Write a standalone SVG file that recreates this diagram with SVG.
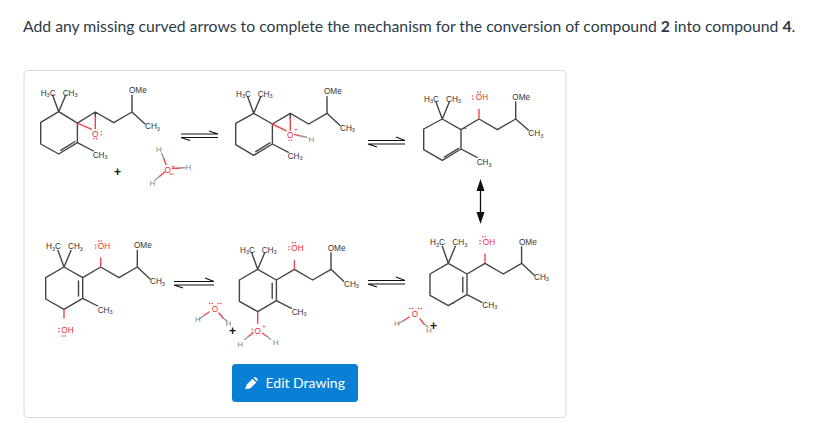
<svg xmlns="http://www.w3.org/2000/svg" width="831" height="432" viewBox="0 0 831 432">
<style>
.b{fill:none;stroke:#444;stroke-width:1.4;stroke-linecap:round;stroke-linejoin:round}
.r{fill:none;stroke:#f0444c;stroke-width:1.4;stroke-linecap:round}
.g{fill:none;stroke:#999;stroke-width:1.4;stroke-linecap:round}
.t{font:8.2px "Liberation Sans",Arial,sans-serif;fill:#333}
.s{font-size:5.500px}
.o{font:8.2px "Liberation Sans",Arial,sans-serif;fill:#ee2b35;text-anchor:middle}
.h{font:8px "Liberation Sans",Arial,sans-serif;fill:#888;text-anchor:middle}
.p{font:bold 12px "Liberation Sans",Arial,sans-serif;fill:#111;text-anchor:middle}
.q{font:6px "Liberation Sans",Arial,sans-serif;fill:#ee2b35}
.d{fill:#ee2b35}
.a{fill:none;stroke:#111;stroke-width:1.2}
</style>
<defs>
<g id="dots"><circle cx="-1.300" r=".7" class="d"/><circle cx="1.300" r=".7" class="d"/></g>
<g id="vdots"><circle cy="-1.500" r=".7" class="d"/><circle cy="1.500" r=".7" class="d"/></g>
</defs>
<rect width="831" height="432" fill="#fff"/>
<text x="23" y="32" font-family="Lato,sans-serif" font-size="15.750" fill="#2d3b45">Add any missing curved arrows to complete the mechanism for the conversion of compound <tspan font-weight="700">2</tspan> into compound <tspan font-weight="700">4</tspan>.</text>
<rect id="card" x="24" y="70.500" width="542" height="347" rx="4" fill="#fff" stroke="#d9d9d9"/>

<g id="compound-1" transform="translate(58.700 111.700)">
<path class="b" d="M0 0L18.700 11.500V31L0 42.300L-18 32.300V10.600ZM0 0L-6 -16.500M0 0L7 -16.500M18.700 11.500L36.600 .3L55 11L73.300 .3V-16.500M73.300 .3L86.300 12.300M18.700 31L34.700 39.300M2 38.600L16.300 29.800M36.600 .3V5"/>
<path class="r" d="M18.700 11.500L32.500 17.500M36.600 5V17"/>
<text class="t" x="-18" y="-16">H<tspan class="s" dy="1.500">3</tspan><tspan dy="-1.500">C</tspan></text><text class="t" x="4" y="-16">CH<tspan class="s" dy="1.500">3</tspan></text>
<text class="t" x="70.300" y="-18.400">OMe</text><text class="t" x="86.300" y="17.600">CH<tspan class="s" dy="1.500">3</tspan></text><text class="t" x="34" y="46">CH<tspan class="s" dy="1.500">3</tspan></text>
<text class="o" x="36.600" y="25">O</text><use href="#dots" x="36.600" y="27"/><use href="#vdots" x="42.500" y="21.500"/>
</g>
<g id="plus-1"><text class="p" x="117.500" y="176">+</text></g>
<g id="hydronium-1">
<path class="g" d="M161.700 153.300L164 159M179 168L185 167.700M155 180L160 176"/>
<path class="r" d="M164 159L166 164.500M172.300 168.300H179M160 176L164.500 172"/>
<text class="h" x="159" y="152">H</text><text class="h" x="188.300" y="170">H</text><text class="h" x="152.300" y="185.500">H</text>
<text class="o" x="167.700" y="172.500">O</text><use href="#dots" x="171.500" y="174"/><text class="q" x="171.500" y="167.500">+</text>
</g>

<g id="compound-2" transform="translate(253.700 113.300)">
<path class="b" d="M0 0L18.700 10.700V30.700L0 42L-18 31.400V10ZM0 0L-6 -16.500M0 0L7 -16.500M18.700 10.700L36.600 0L55 10.700L73.300 0V-16.500M73.300 0L86.300 12.300M18.700 30.700L34.700 39M2 38.300L16.300 29.500M36.600 0V5"/>
<path class="r" d="M18.700 10.700L32.500 17.500M36.600 5V17M41 21L46 22.500"/><path class="g" d="M46 22.500L53 24"/>
<text class="t" x="-17.700" y="-16.600">H<tspan class="s" dy="1.500">3</tspan><tspan dy="-1.500">C</tspan></text><text class="t" x="4" y="-16.600">CH<tspan class="s" dy="1.500">3</tspan></text>
<text class="t" x="70.300" y="-19">OMe</text><text class="t" x="86.300" y="17.700">CH<tspan class="s" dy="1.500">3</tspan></text><text class="t" x="34" y="45.700">CH<tspan class="s" dy="1.500">3</tspan></text>
<text class="o" x="36.600" y="24.500">O</text><use href="#dots" x="36.600" y="27"/><text class="q" x="40.500" y="18">+</text>
<text class="h" x="57.600" y="28.400">H</text>
</g>

<g id="compound-3" transform="translate(442.300 119)">
<path class="b" d="M0 0L18.700 10.700V30L0 41.300L-18.600 30.700V10ZM0 0L-6.300 -17M0 0L7 -17M18.700 10.700L36.700 0L55 10.700L73.400 0V-17M73.400 0L86 11M18.700 30L34.700 38.300M2 38L16.300 29.300"/>
<path class="r" d="M36.700 -1V-9.500"/>
<text class="t" x="-18.300" y="-17.300">H<tspan class="s" dy="1.500">3</tspan><tspan dy="-1.500">C</tspan></text><text class="t" x="3.700" y="-17.300">CH<tspan class="s" dy="1.500">3</tspan></text>
<text class="t" x="70" y="-19">OMe</text><text class="t" x="86" y="17">CH<tspan class="s" dy="1.500">3</tspan></text><text class="t" x="34.400" y="46">CH<tspan class="s" dy="1.500">3</tspan></text>
<text class="o" x="39.700" y="-19">OH</text><use href="#dots" x="36.700" y="-26.700"/><use href="#vdots" x="30.400" y="-21.500"/>
<circle cx="23" cy="9.500" r=".7" fill="#444"/>
</g>

<g id="compound-4" transform="translate(64 267)">
<path class="b" d="M0 0L18.700 10.700V31.300L0 42.300L-18.300 32V10.700ZM0 0L-6 -16.500M0 0L7 -16.500M18.700 10.700L36.700 0L55 10.700L73.300 0V-16.500M73.300 0L86 12M18.700 31.300L33.700 39M14.500 14V29"/>
<path class="r" d="M36.700 -1V-9M0 43V51"/>
<text class="t" x="-18" y="-17.700">H<tspan class="s" dy="1.500">3</tspan><tspan dy="-1.500">C</tspan></text><text class="t" x="4" y="-17.700">CH<tspan class="s" dy="1.500">3</tspan></text>
<text class="t" x="70" y="-18.700">OMe</text><text class="t" x="86" y="17.300">CH<tspan class="s" dy="1.500">3</tspan></text><text class="t" x="33.700" y="45.700">CH<tspan class="s" dy="1.500">3</tspan></text>
<text class="o" x="40" y="-18">OH</text><use href="#dots" x="36" y="-26"/><use href="#vdots" x="31.700" y="-20.500"/>
<text class="o" x="3.500" y="66">OH</text><use href="#dots" x="0" y="69"/><use href="#vdots" x="-5" y="63"/>
</g>

<g id="compound-5" transform="translate(257.700 269.300)">
<path class="b" d="M0 0L18.700 10.700V31.300L0 42.300L-18.300 32V10.700ZM0 0L-6 -16.500M0 0L7 -16.500M18.700 10.700L36.700 0L55 10.700L73.300 0V-16.500M73.300 0L86 12M18.700 31.300L33.700 39M14.500 14V29"/>
<path class="r" d="M36.700 -1V-8.600M0 43V54"/>
<text class="t" x="-17.700" y="-16.600">H<tspan class="s" dy="1.500">3</tspan><tspan dy="-1.500">C</tspan></text><text class="t" x="4" y="-16.600">CH<tspan class="s" dy="1.500">3</tspan></text>
<text class="t" x="70" y="-18.600">OMe</text><text class="t" x="86.300" y="17.400">CH<tspan class="s" dy="1.500">3</tspan></text><text class="t" x="34" y="45.700">CH<tspan class="s" dy="1.500">3</tspan></text>
<text class="o" x="39.800" y="-18.600">OH</text><use href="#dots" x="36.300" y="-26.600"/><use href="#vdots" x="31.300" y="-21"/>
<text class="o" x="0" y="65">O</text><text class="q" x="4.500" y="58.500">+</text><use href="#vdots" x="-5.500" y="61.500"/>
<path class="r" d="M-5 64L-9 67M5 64L9 67"/><path class="g" d="M-9 67L-13 70M9 67L13 70"/>
<text class="h" x="-17.500" y="78">H</text><text class="h" x="18" y="76">H</text>
</g>

<g id="compound-6" transform="translate(448.300 263.300)">
<path class="b" d="M0 0L18.700 10.700V31.300L0 42.300L-18.300 32V10.700ZM0 0L-6 -17M0 0L7 -17M18.700 10.700L36.700 0L55 10.700L73.300 0V-16.500M73.300 0L86 12M18.700 31.300L33.700 39M14.500 14V29"/>
<path class="r" d="M36.700 -1V-9"/>
<text class="t" x="-18.300" y="-18.300">H<tspan class="s" dy="1.500">3</tspan><tspan dy="-1.500">C</tspan></text><text class="t" x="4" y="-18.300">CH<tspan class="s" dy="1.500">3</tspan></text>
<text class="t" x="70.700" y="-18.600">OMe</text><text class="t" x="34" y="44.700">CH<tspan class="s" dy="1.500">3</tspan></text><text class="t" x="85.700" y="16.700">CH<tspan class="s" dy="1.500">3</tspan></text>
<text class="o" x="40.700" y="-18.600">OH</text><use href="#dots" x="35.700" y="-26.600"/><use href="#vdots" x="31.700" y="-21"/>
<circle cx="5" cy="40" r=".7" fill="#444"/>
</g>

<g id="water-1">
<path class="r" d="M209 312L204 315.500M219 313L223 318"/><path class="g" d="M204 315.500L199 319M223 318L227 321"/>
<text class="o" x="215" y="312">O</text><use href="#dots" x="211" y="303.500"/><use href="#dots" x="219.500" y="303.500"/>
<text class="h" x="198" y="322">H</text><text class="h" x="228.500" y="326">H</text>
<text class="p" x="232.500" y="335">+</text>
</g>
<g id="water-2">
<path class="r" d="M409 317L403 321M420 319L424 324"/><path class="g" d="M403 321L398 324M424 324L428 327"/>
<text class="o" x="415" y="317">O</text><use href="#dots" x="411" y="308.500"/><use href="#dots" x="420" y="308.500"/>
<text class="h" x="397" y="326">H</text><text class="h" x="429" y="332.500">H</text>
<text class="p" x="433.500" y="330">+</text>
</g>

<g id="connectors">
<path class="a" d="M181 134H218M181 137.500H218M209 131L218 134M181 137.500L190 140.500"/>
<path class="a" d="M368 140.500H405M368 144H405M396 137L405 140.500M368 144L377 147"/>
<path d="M480.500 186V218" stroke="#111" stroke-width="1.300"/><path d="M480.500 179L484.500 191H476.500ZM480.500 224L476.500 212H484.500Z" fill="#111"/>
<path class="a" d="M174 281.500H214M174 285H214M205 278L214 281.500M174 285L183 288"/>
<path class="a" d="M368 280.500H405M368 284H405M396 277L405 280.500M368 284L377 287"/>
</g>

<g id="edit-drawing">
<rect x="232" y="364" width="126" height="38" rx="3.500" fill="#0a7fd6"/>
<path d="M245.200 389L246.500 384.800L252.500 378.800L256.200 382.500L250.200 388.500ZM253.500 377.800L254.500 377.200Q255.300 376.800 256 377.500L257.300 378.800Q258 379.500 257.500 380.300L257 381.300Z" fill="#fff"/>
<text x="265.500" y="388" font-family="Lato,sans-serif" font-size="14" fill="#fff">Edit Drawing</text>
</g>
</svg>
